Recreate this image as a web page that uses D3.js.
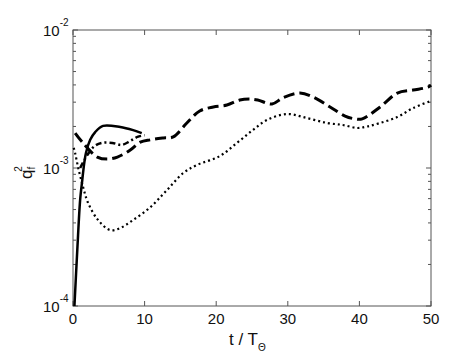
<!DOCTYPE html>
<html>
<head>
<meta charset="utf-8">
<script src="https://cdn.jsdelivr.net/npm/d3@7"></script>
<style>
  body { margin: 0; background: #fff; }
  svg { display: block; font-family: Arial, "Liberation Sans", sans-serif; }
</style>
</head>
<body>
<svg id="chart" width="474" height="355"></svg>
<script>
// data: [t / T_theta, q^2]
const solidT   = [0.2, 0.6, 1.0, 1.3, 1.4, 1.8, 2.4, 3.1, 4.2, 6.6, 8.4, 9.6];
const solidQ   = [1.0e-4, 2.55e-4, 5.9e-4, 8.2e-4, 9.2e-4, 1.28e-3, 1.6e-3, 1.82e-3, 2.02e-3, 1.98e-3, 1.88e-3, 1.79e-3];

const dashDotT = [1.0, 2.0, 3.0, 4.0, 5.5, 6.8, 8.0, 9.0, 10.0];
const dashDotQ = [1.0e-3, 1.24e-3, 1.44e-3, 1.52e-3, 1.52e-3, 1.47e-3, 1.57e-3, 1.68e-3, 1.73e-3];

const dashedT  = [0.3, 1.3, 3.4, 4.8, 6.2, 8.0, 9.4, 10.8, 12.6, 14.0, 15.9, 17.7, 19.6, 21.5, 23.3, 24.7, 25.8, 27.8, 29.3, 31.7, 33.5, 35.9, 38.0, 39.4, 40.4, 42.9, 45.3, 47.5, 49.6, 50];
const dashedQ  = [1.79e-3, 1.54e-3, 1.20e-3, 1.16e-3, 1.20e-3, 1.35e-3, 1.54e-3, 1.60e-3, 1.65e-3, 1.68e-3, 2.12e-3, 2.59e-3, 2.77e-3, 2.86e-3, 3.11e-3, 3.16e-3, 3.11e-3, 2.91e-3, 3.22e-3, 3.49e-3, 3.27e-3, 2.77e-3, 2.38e-3, 2.27e-3, 2.27e-3, 2.77e-3, 3.49e-3, 3.67e-3, 3.86e-3, 3.99e-3];

const dottedT  = [0.1, 0.3, 0.7, 1.4, 2.1, 3.5, 5.2, 6.6, 8.4, 10.8, 13.1, 15.4, 17.3, 20.5, 22.9, 25.1, 27.1, 29.9, 32.7, 35.5, 37.7, 39.7, 41.1, 42.9, 45.3, 47.5, 50];
const dottedQ  = [1.40e-3, 1.28e-3, 1.02e-3, 7.3e-4, 5.6e-4, 4.2e-4, 3.55e-4, 3.67e-4, 4.2e-4, 5.2e-4, 6.9e-4, 9.2e-4, 1.05e-3, 1.22e-3, 1.52e-3, 1.88e-3, 2.23e-3, 2.46e-3, 2.30e-3, 2.12e-3, 2.05e-3, 1.95e-3, 2.0e-3, 2.12e-3, 2.34e-3, 2.72e-3, 3.06e-3];

const xTicks = [0, 10, 20, 30, 40, 50];
const yMajor = [1e-4, 1e-3, 1e-2];
const yExp   = ["-4", "-3", "-2"];

const svg = d3.select("#chart");
const plotL = 73, plotR = 431, plotT = 30, plotB = 306;

const x = d3.scaleLinear().domain([0, 50]).range([plotL, plotR]);
const y = d3.scaleLog().domain([1e-4, 1e-2]).range([plotB, plotT]);

const frame = "#555";

// box
svg.append("rect")
    .attr("x", plotL).attr("y", plotT)
    .attr("width", plotR - plotL).attr("height", plotB - plotT)
    .attr("fill", "none").attr("stroke", frame).attr("stroke-width", 1);

// y ticks (inward, both sides), minor ones included
const yAll = y.ticks();
yAll.forEach(v => {
    const major = yMajor.some(m => Math.abs(m - v) / m < 1e-6);
    const len = major ? 5 : 3;
    svg.append("line").attr("x1", plotL).attr("x2", plotL + len)
        .attr("y1", y(v)).attr("y2", y(v)).attr("stroke", frame);
    svg.append("line").attr("x1", plotR).attr("x2", plotR - len)
        .attr("y1", y(v)).attr("y2", y(v)).attr("stroke", frame);
});

// x ticks (inward, bottom and top)
xTicks.forEach(t => {
    svg.append("line").attr("x1", x(t)).attr("x2", x(t))
        .attr("y1", plotB).attr("y2", plotB - 5).attr("stroke", frame);
    svg.append("line").attr("x1", x(t)).attr("x2", x(t))
        .attr("y1", plotT).attr("y2", plotT + 5).attr("stroke", frame);
    svg.append("text")
        .attr("x", x(t)).attr("y", plotB + 18)
        .attr("text-anchor", "middle")
        .attr("font-size", 15)
        .attr("fill", "#111")
        .text(t);
});

// y tick labels 10^n
yMajor.forEach((v, i) => {
    const lbl = svg.append("text")
        .attr("x", 43).attr("y", y(v) + 6)
        .attr("font-size", 15)
        .attr("fill", "#111");
    lbl.append("tspan").text("10");
    lbl.append("tspan").attr("dy", -10).attr("font-size", 10).text(yExp[i]);
});

// axis labels
const xl = svg.append("text")
    .attr("x", 229).attr("y", 345)
    .attr("font-size", 17)
    .attr("fill", "#111");
xl.append("tspan").text("t / T");
xl.append("tspan").attr("dy", 6).attr("font-size", 10).text("\u0398");

const yl = svg.append("text")
    .attr("transform", "translate(32,179) rotate(-90)")
    .attr("font-size", 17)
    .attr("fill", "#111");
yl.append("tspan").text("q");
yl.append("tspan").attr("dy", 3).attr("font-size", 10).text("f");
yl.append("tspan").attr("dx", -5).attr("dy", -13).attr("font-size", 10).text("2");

// curves
const line = d3.line()
    .x(d => x(d[0]))
    .y(d => y(d[1]))
    .curve(d3.curveCatmullRom.alpha(0.5));

const series = [
    { t: dashedT,  q: dashedQ,  dash: "11,5", w: 3 },
    { t: dottedT,  q: dottedQ,  dash: "2,3",  w: 2.2 },
    { t: dashDotT, q: dashDotQ, dash: "6,3,2,3", w: 2.5 },
    { t: solidT,   q: solidQ,   dash: null,   w: 2.5 }
];

series.forEach(s => {
    svg.append("path")
        .datum(s.t.map((t, i) => [t, s.q[i]]))
        .attr("d", line)
        .attr("fill", "none")
        .attr("stroke", "#000")
        .attr("stroke-width", s.w)
        .attr("stroke-dasharray", s.dash);
});
</script>
</body>
</html>
